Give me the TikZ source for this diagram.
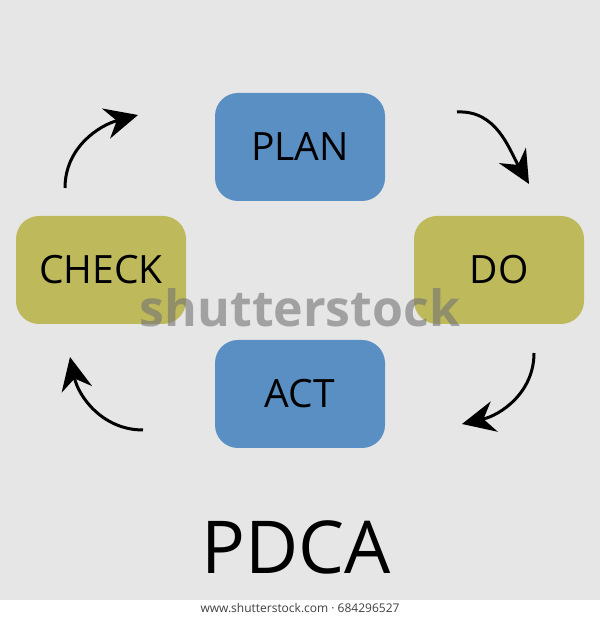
\documentclass[tikz,border=0pt]{standalone}
\usepackage{fontspec}
\setmainfont{Open Sans}
\usetikzlibrary{arrows.meta}
\definecolor{bg}{HTML}{E6E6E6}
\definecolor{boxblue}{HTML}{5A8FC3}
\definecolor{boxolive}{HTML}{BEBA5C}
\tikzset{
  stagebox/.style={rounded corners=23pt, minimum width=170pt, minimum height=108pt, inner sep=0pt, font=\fontsize{39}{40}\selectfont, text=black},
  bluebox/.style={stagebox, fill=boxblue},
  olivebox/.style={stagebox, fill=boxolive},
  cyclearrow/.style={line width=3pt, -{Stealth[length=33pt,width=31pt,inset=11pt]}}
}
\begin{document}
\begin{tikzpicture}[x=1pt,y=1pt]
\fill[bg] (0,0) rectangle (600,620);
\fill[white] (0,0) rectangle (600,20);
\useasboundingbox (0,0) rectangle (600,620);
\node[bluebox] (plan) at (300,473) {PLAN};
\node[olivebox] (check) at (101,350) {CHECK};
\node[olivebox] (do) at (499,350) {DO};
\node[bluebox] (act) at (300,226) {ACT};
\coordinate (a1s) at (65,432);
\coordinate (a1e) at (138,505);
\coordinate (a2s) at (457,508);
\coordinate (a2e) at (529,436);
\coordinate (a3s) at (534,267);
\coordinate (a3e) at (462,196);
\coordinate (a4s) at (143,190);
\coordinate (a4e) at (70,263);
\draw[cyclearrow] (a1s) to[out=90,in=195] (a1e);
\draw[cyclearrow] (a2s) to[out=3,in=120] (a2e);
\draw[cyclearrow] (a3s) to[out=-90,in=13] (a3e);
\draw[cyclearrow] (a4s) to[out=180,in=-78] (a4e);
\node[font=\fontsize{73}{74}\selectfont, anchor=base] (pdca) at (296,46) {PDCA};
\node[font=\bfseries\fontsize{50}{50}\selectfont, text=black!55, opacity=0.6] (wm) at (300,312) {shutterstock};
\node[font=\fontsize{12}{13}\selectfont, text=black!75, anchor=base] (url) at (300,7) {www.shutterstock.com · 684296527};
\end{tikzpicture}
\end{document}
